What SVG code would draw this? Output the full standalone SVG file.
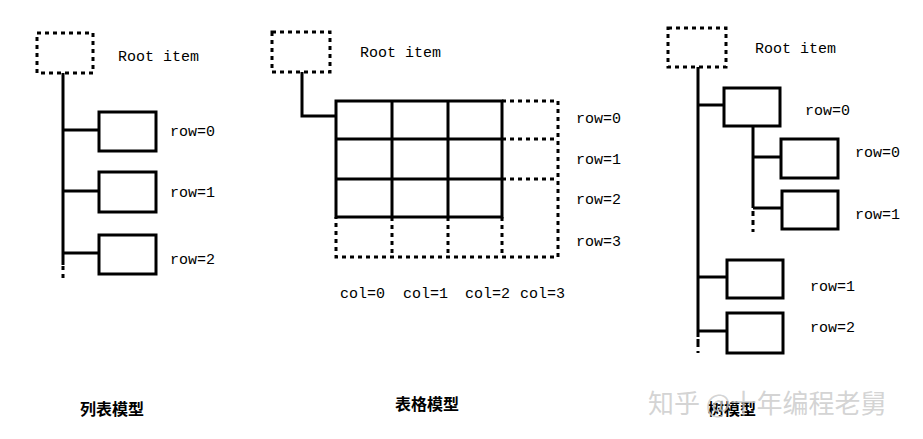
<svg xmlns="http://www.w3.org/2000/svg" width="923" height="439" viewBox="0 0 923 439">
<style>
.solid{fill:none;stroke:#000;stroke-width:3}
.box{fill:#fff;stroke:#000;stroke-width:3}
.dash{fill:none;stroke:#000;stroke-width:3;stroke-dasharray:4 4}
.lbl{font-family:"Liberation Mono","DejaVu Sans Mono",monospace;font-size:15px;fill:#000}
.cap{font-family:"Noto Sans CJK SC",sans-serif;font-size:16px;font-weight:bold;fill:#000}
.wm{font-family:"Noto Sans CJK SC",sans-serif;font-size:26px;fill:#c8c8c8;fill-opacity:0.8}
</style>
<rect width="923" height="439" fill="#fff"/>
<g id="connectors">
  <!-- list model -->
  <line class="solid" x1="63" y1="73" x2="63" y2="265"/>
  <line class="dash" x1="63" y1="266" x2="63" y2="281" style="stroke-dasharray:4 4"/>
  <line class="solid" x1="63" y1="130" x2="99" y2="130"/>
  <line class="solid" x1="63" y1="191" x2="99" y2="191"/>
  <line class="solid" x1="63" y1="253" x2="99" y2="253"/>
  <!-- table model -->
  <polyline class="solid" points="302,72 302,116 336,116"/>
  <!-- tree model -->
  <line class="solid" x1="698" y1="67" x2="698" y2="337"/>
  <line class="dash" x1="698" y1="339" x2="698" y2="353" style="stroke-dasharray:8 4"/>
  <line class="solid" x1="698" y1="105" x2="724" y2="105"/>
  <line class="solid" x1="698" y1="277" x2="727" y2="277"/>
  <line class="solid" x1="698" y1="331" x2="727" y2="331"/>
  <line class="solid" x1="753" y1="126" x2="753" y2="208"/>
  <line class="dash" x1="753" y1="211" x2="753" y2="232" style="stroke-dasharray:5 4"/>
  <line class="solid" x1="753" y1="157" x2="781" y2="157"/>
  <line class="solid" x1="753" y1="208" x2="782" y2="208"/>
</g>
<g id="list-root">
  <rect class="dash" x="37" y="33" width="56" height="40"/>
  <text class="lbl" x="118" y="61">Root item</text>
</g>
<g id="list-row0"><rect class="box" x="99" y="112" width="57" height="39"/><text class="lbl" x="170" y="136">row=0</text></g>
<g id="list-row1"><rect class="box" x="99" y="172" width="57" height="40"/><text class="lbl" x="170" y="197">row=1</text></g>
<g id="list-row2"><rect class="box" x="99" y="235" width="57" height="39"/><text class="lbl" x="170" y="264">row=2</text></g>
<g id="list-caption"><text class="cap" x="80" y="415">列表模型</text></g>

<g id="table-root">
  <rect class="dash" x="272" y="32" width="58" height="40"/>
  <text class="lbl" x="360" y="57">Root item</text>
</g>
<g id="table-grid">
  <path class="dash" d="M502,101 H558 V257 H336 V217 M502,139 H558 M502,179 H558 M392,217 V257 M448,217 V257 M502,217 V257"/>
  <rect class="solid" x="336" y="101" width="166" height="116"/>
  <path class="solid" d="M392,101 V217 M448,101 V217 M336,139 H502 M336,179 H502"/>
  <text class="lbl" x="576" y="123">row=0</text>
  <text class="lbl" x="576" y="164">row=1</text>
  <text class="lbl" x="576" y="204">row=2</text>
  <text class="lbl" x="576" y="246">row=3</text>
  <text class="lbl" x="340" y="298">col=0</text>
  <text class="lbl" x="403" y="298">col=1</text>
  <text class="lbl" x="465" y="298">col=2</text>
  <text class="lbl" x="520" y="298">col=3</text>
</g>
<g id="table-caption"><text class="cap" x="395" y="410">表格模型</text></g>

<g id="tree-root">
  <rect class="dash" x="668" y="28" width="58" height="39"/>
  <text class="lbl" x="755" y="53">Root item</text>
</g>
<g id="tree-row0"><rect class="box" x="724" y="88" width="56" height="38"/><text class="lbl" x="805" y="115">row=0</text></g>
<g id="tree-row0-0"><rect class="box" x="781" y="139" width="57" height="39"/><text class="lbl" x="855" y="157">row=0</text></g>
<g id="tree-row0-1"><rect class="box" x="782" y="191" width="56" height="38"/><text class="lbl" x="855" y="219">row=1</text></g>
<g id="tree-row1"><rect class="box" x="727" y="260" width="56" height="38"/><text class="lbl" x="810" y="291">row=1</text></g>
<g id="tree-row2"><rect class="box" x="727" y="313" width="56" height="40"/><text class="lbl" x="810" y="332">row=2</text></g>
<g id="tree-caption"><text class="cap" x="708" y="415">树模型</text></g>
<text class="wm" x="648" y="413">知乎 @十年编程老舅</text>
</svg>
